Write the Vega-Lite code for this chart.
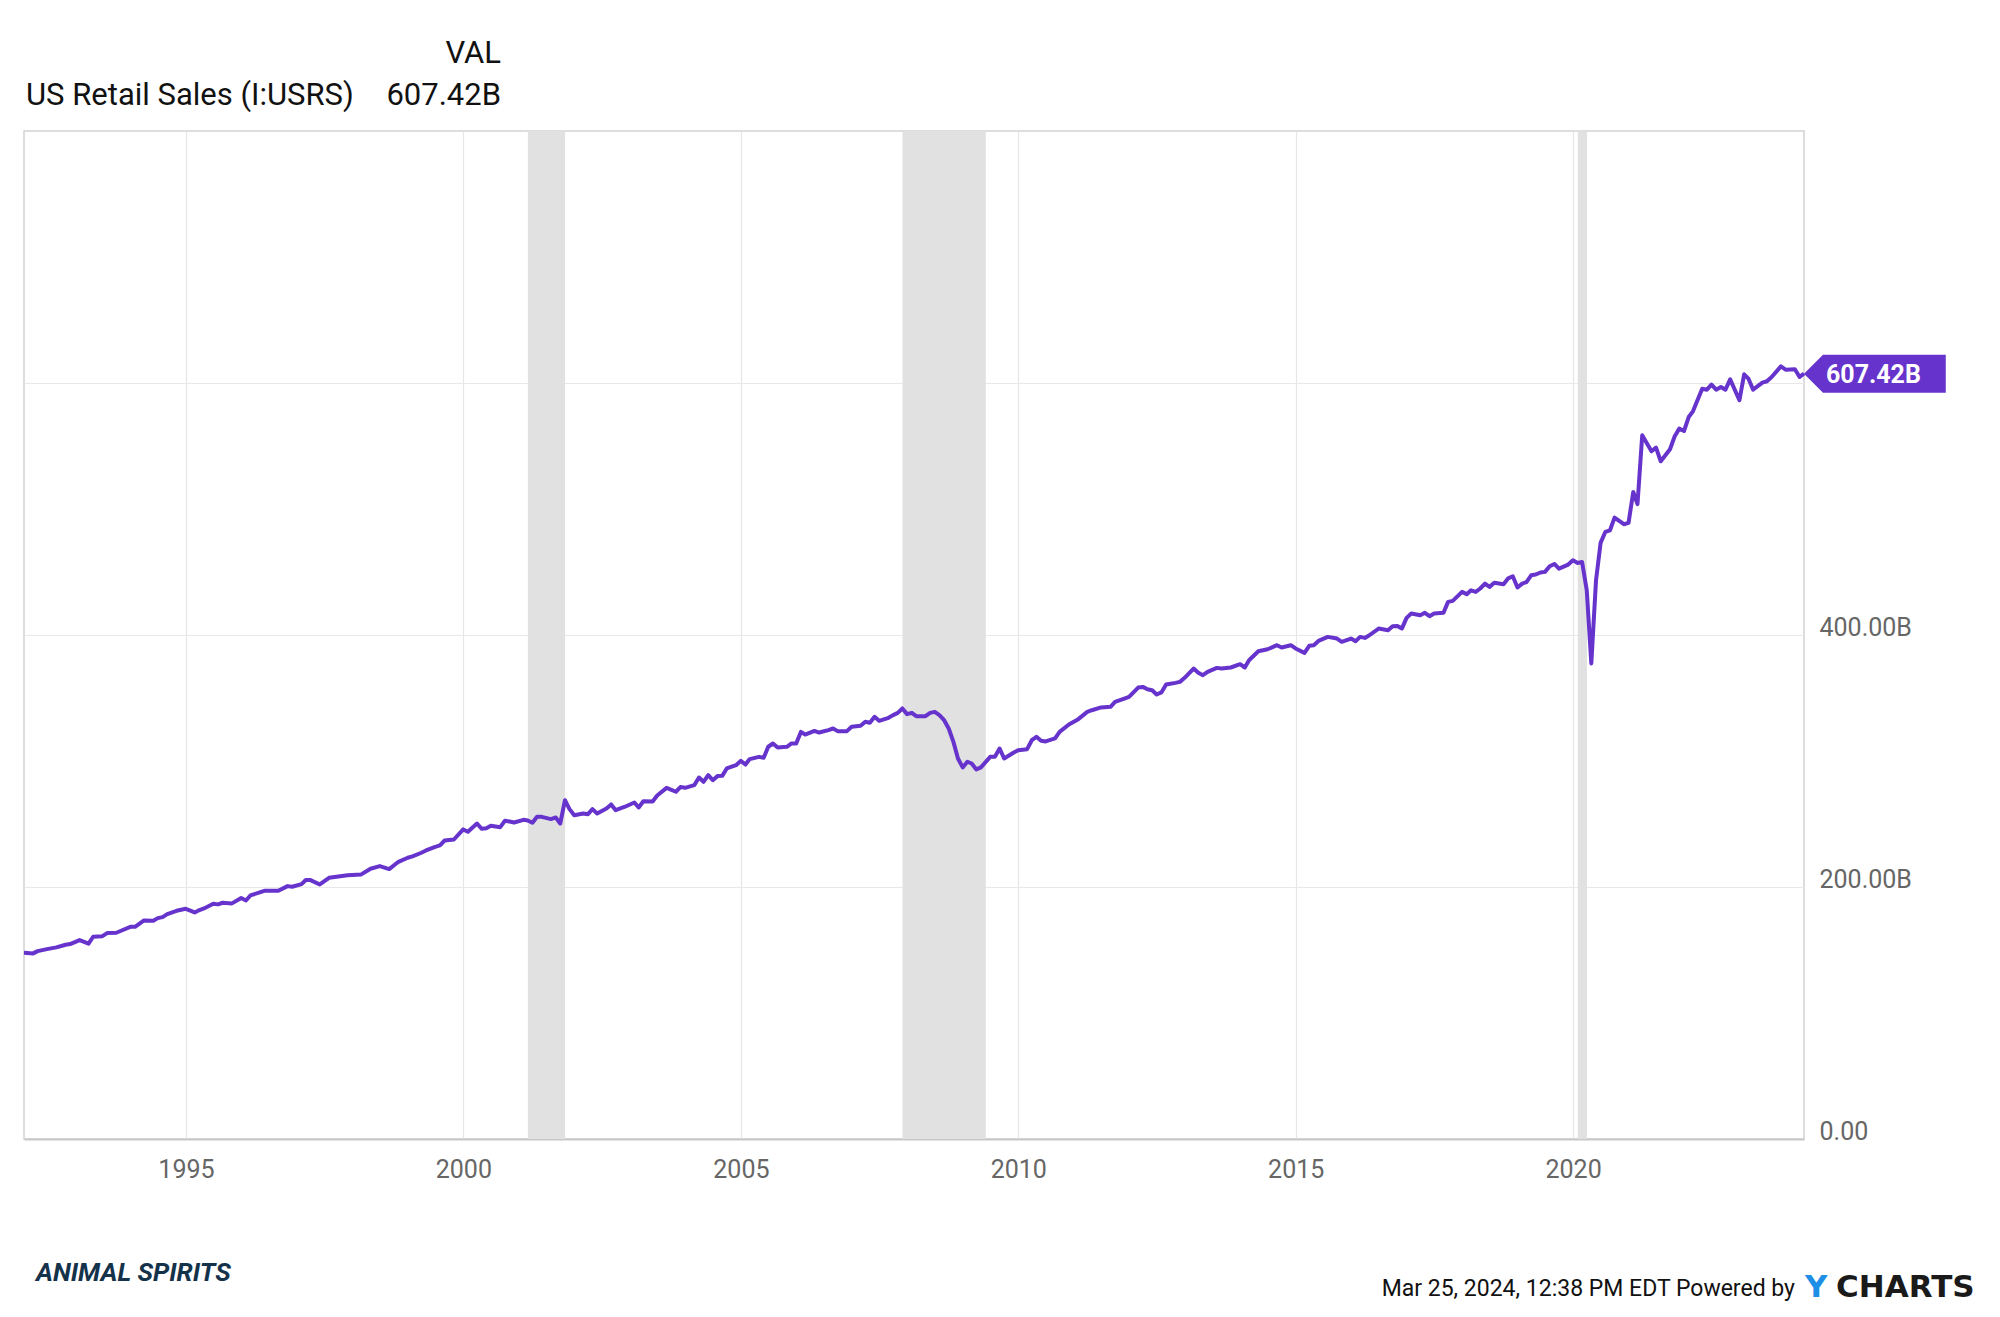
{
  "$schema": "https://vega.github.io/schema/vega-lite/v6.json",
  "width": 1780,
  "height": 1008,
  "autosize": {"type": "none"},
  "padding": {"left": 24, "top": 131, "right": 196, "bottom": 178},
  "background": "#ffffff",
  "config": {
    "view": {"stroke": "#d2d2d2", "strokeWidth": 1.5},
    "font": "Roboto, sans-serif",
    "axis": {"gridColor": "#e8e8e8", "gridWidth": 1.2}
  },
  "datasets": {
    "recessions": [
      {"start": "2001-03-01", "end": "2001-11-01"},
      {"start": "2007-12-01", "end": "2009-06-01"},
      {"start": "2020-02-01", "end": "2020-04-01"}
    ],
    "last": [
      {"date": "2024-02-29", "value": 607.42, "label": "607.42B"}
    ],
    "sales": [
{"date":"1992-01-31","value":147.8},
{"date":"1992-03-31","value":147.3},
{"date":"1992-04-30","value":149.1},
{"date":"1992-06-30","value":150.7},
{"date":"1992-08-31","value":152.1},
{"date":"1992-10-31","value":154.2},
{"date":"1992-11-30","value":154.7},
{"date":"1993-01-31","value":157.9},
{"date":"1993-03-31","value":155.0},
{"date":"1993-04-30","value":160.5},
{"date":"1993-06-30","value":161.0},
{"date":"1993-07-31","value":163.4},
{"date":"1993-09-30","value":163.7},
{"date":"1993-10-31","value":165.3},
{"date":"1993-12-31","value":168.4},
{"date":"1994-01-31","value":168.4},
{"date":"1994-03-31","value":173.5},
{"date":"1994-05-31","value":173.2},
{"date":"1994-06-30","value":175.3},
{"date":"1994-07-31","value":176.1},
{"date":"1994-08-31","value":178.5},
{"date":"1994-10-31","value":181.1},
{"date":"1994-12-31","value":182.7},
{"date":"1995-02-28","value":179.8},
{"date":"1995-03-31","value":181.7},
{"date":"1995-04-30","value":183.0},
{"date":"1995-06-30","value":186.7},
{"date":"1995-07-31","value":186.2},
{"date":"1995-08-31","value":187.5},
{"date":"1995-10-31","value":187.0},
{"date":"1995-12-31","value":191.2},
{"date":"1996-01-31","value":189.3},
{"date":"1996-02-29","value":193.3},
{"date":"1996-04-30","value":195.7},
{"date":"1996-05-31","value":197.0},
{"date":"1996-08-31","value":197.0},
{"date":"1996-10-31","value":200.7},
{"date":"1996-11-30","value":200.2},
{"date":"1997-01-31","value":202.3},
{"date":"1997-02-28","value":205.5},
{"date":"1997-03-31","value":205.5},
{"date":"1997-05-31","value":202.0},
{"date":"1997-07-31","value":207.3},
{"date":"1997-09-30","value":208.4},
{"date":"1997-11-30","value":209.4},
{"date":"1998-02-28","value":210.0},
{"date":"1998-04-30","value":214.5},
{"date":"1998-06-30","value":216.6},
{"date":"1998-08-31","value":214.2},
{"date":"1998-10-31","value":220.0},
{"date":"1998-12-31","value":223.2},
{"date":"1999-01-31","value":224.3},
{"date":"1999-03-31","value":227.2},
{"date":"1999-04-30","value":229.0},
{"date":"1999-06-30","value":231.9},
{"date":"1999-07-31","value":233.0},
{"date":"1999-08-31","value":236.9},
{"date":"1999-10-31","value":237.7},
{"date":"1999-12-31","value":245.7},
{"date":"2000-01-31","value":243.8},
{"date":"2000-03-31","value":250.4},
{"date":"2000-04-30","value":246.2},
{"date":"2000-05-31","value":246.7},
{"date":"2000-06-30","value":248.6},
{"date":"2000-08-31","value":247.5},
{"date":"2000-09-30","value":252.5},
{"date":"2000-10-31","value":252.0},
{"date":"2000-11-30","value":251.2},
{"date":"2001-01-31","value":253.3},
{"date":"2001-02-28","value":252.8},
{"date":"2001-03-31","value":251.0},
{"date":"2001-04-30","value":255.7},
{"date":"2001-05-31","value":255.7},
{"date":"2001-07-31","value":253.9},
{"date":"2001-08-31","value":255.2},
{"date":"2001-09-30","value":250.4},
{"date":"2001-10-31","value":268.9},
{"date":"2001-11-30","value":261.8},
{"date":"2001-12-31","value":257.0},
{"date":"2002-02-28","value":258.4},
{"date":"2002-03-31","value":257.8},
{"date":"2002-04-30","value":261.8},
{"date":"2002-05-31","value":258.4},
{"date":"2002-07-31","value":262.3},
{"date":"2002-08-31","value":265.5},
{"date":"2002-09-30","value":261.0},
{"date":"2002-11-30","value":263.7},
{"date":"2003-01-31","value":267.1},
{"date":"2003-02-28","value":263.1},
{"date":"2003-03-31","value":268.1},
{"date":"2003-05-31","value":267.9},
{"date":"2003-06-30","value":272.6},
{"date":"2003-08-31","value":278.7},
{"date":"2003-10-31","value":275.6},
{"date":"2003-11-30","value":279.3},
{"date":"2003-12-31","value":278.7},
{"date":"2004-02-29","value":280.8},
{"date":"2004-03-31","value":286.9},
{"date":"2004-04-30","value":283.5},
{"date":"2004-05-31","value":288.8},
{"date":"2004-06-30","value":284.8},
{"date":"2004-07-31","value":288.0},
{"date":"2004-08-31","value":288.2},
{"date":"2004-09-30","value":294.1},
{"date":"2004-11-30","value":296.7},
{"date":"2004-12-31","value":300.1},
{"date":"2005-01-31","value":297.2},
{"date":"2005-02-28","value":301.5},
{"date":"2005-04-30","value":303.3},
{"date":"2005-05-31","value":302.5},
{"date":"2005-06-30","value":311.3},
{"date":"2005-07-31","value":313.9},
{"date":"2005-08-31","value":310.7},
{"date":"2005-10-31","value":311.3},
{"date":"2005-11-30","value":313.9},
{"date":"2005-12-31","value":313.9},
{"date":"2006-01-31","value":323.1},
{"date":"2006-02-28","value":321.0},
{"date":"2006-04-30","value":323.9},
{"date":"2006-05-31","value":322.6},
{"date":"2006-07-31","value":324.5},
{"date":"2006-08-31","value":325.8},
{"date":"2006-09-30","value":323.7},
{"date":"2006-11-30","value":323.7},
{"date":"2006-12-31","value":327.1},
{"date":"2007-02-28","value":327.9},
{"date":"2007-03-31","value":331.1},
{"date":"2007-04-30","value":330.3},
{"date":"2007-05-31","value":335.1},
{"date":"2007-06-30","value":331.9},
{"date":"2007-08-31","value":334.3},
{"date":"2007-09-30","value":336.4},
{"date":"2007-10-31","value":338.2},
{"date":"2007-11-30","value":341.7},
{"date":"2007-12-31","value":337.2},
{"date":"2008-01-31","value":338.2},
{"date":"2008-02-29","value":335.6},
{"date":"2008-04-30","value":335.6},
{"date":"2008-05-31","value":338.2},
{"date":"2008-06-30","value":339.0},
{"date":"2008-07-31","value":336.4},
{"date":"2008-08-31","value":332.4},
{"date":"2008-09-30","value":325.8},
{"date":"2008-10-31","value":315.2},
{"date":"2008-11-30","value":302.0},
{"date":"2008-12-31","value":294.9},
{"date":"2009-01-31","value":299.4},
{"date":"2009-02-28","value":298.0},
{"date":"2009-03-31","value":293.3},
{"date":"2009-04-30","value":294.9},
{"date":"2009-06-30","value":303.3},
{"date":"2009-07-31","value":303.3},
{"date":"2009-08-31","value":309.9},
{"date":"2009-09-30","value":302.0},
{"date":"2009-11-30","value":306.5},
{"date":"2009-12-31","value":308.6},
{"date":"2010-02-28","value":309.4},
{"date":"2010-03-31","value":316.5},
{"date":"2010-04-30","value":319.2},
{"date":"2010-05-31","value":316.0},
{"date":"2010-06-30","value":315.5},
{"date":"2010-08-31","value":317.9},
{"date":"2010-09-30","value":323.1},
{"date":"2010-11-30","value":329.0},
{"date":"2011-01-31","value":333.2},
{"date":"2011-03-31","value":339.0},
{"date":"2011-04-30","value":340.3},
{"date":"2011-06-30","value":342.5},
{"date":"2011-08-31","value":343.0},
{"date":"2011-09-30","value":346.9},
{"date":"2011-11-30","value":349.6},
{"date":"2011-12-31","value":350.9},
{"date":"2012-02-29","value":358.3},
{"date":"2012-03-31","value":358.8},
{"date":"2012-04-30","value":357.0},
{"date":"2012-05-31","value":356.2},
{"date":"2012-06-30","value":352.8},
{"date":"2012-07-31","value":354.4},
{"date":"2012-08-31","value":360.7},
{"date":"2012-10-31","value":362.0},
{"date":"2012-11-30","value":362.8},
{"date":"2012-12-31","value":366.0},
{"date":"2013-02-28","value":373.4},
{"date":"2013-03-31","value":370.0},
{"date":"2013-04-30","value":368.1},
{"date":"2013-05-31","value":370.8},
{"date":"2013-07-31","value":373.9},
{"date":"2013-08-31","value":373.4},
{"date":"2013-10-31","value":374.2},
{"date":"2013-12-31","value":376.8},
{"date":"2014-01-31","value":374.2},
{"date":"2014-02-28","value":380.0},
{"date":"2014-04-30","value":387.1},
{"date":"2014-06-30","value":388.7},
{"date":"2014-08-31","value":391.9},
{"date":"2014-09-30","value":390.1},
{"date":"2014-11-30","value":391.9},
{"date":"2014-12-31","value":389.3},
{"date":"2015-02-28","value":385.8},
{"date":"2015-03-31","value":391.4},
{"date":"2015-04-30","value":391.9},
{"date":"2015-05-31","value":395.3},
{"date":"2015-07-31","value":398.5},
{"date":"2015-09-30","value":397.2},
{"date":"2015-10-31","value":394.6},
{"date":"2015-12-31","value":397.2},
{"date":"2016-01-31","value":395.1},
{"date":"2016-02-29","value":398.5},
{"date":"2016-03-31","value":397.7},
{"date":"2016-04-30","value":399.8},
{"date":"2016-06-30","value":405.1},
{"date":"2016-08-31","value":403.8},
{"date":"2016-09-30","value":407.0},
{"date":"2016-10-31","value":407.2},
{"date":"2016-11-30","value":405.1},
{"date":"2016-12-31","value":413.6},
{"date":"2017-01-31","value":417.0},
{"date":"2017-03-31","value":415.7},
{"date":"2017-04-30","value":417.6},
{"date":"2017-05-31","value":414.9},
{"date":"2017-06-30","value":417.0},
{"date":"2017-08-31","value":417.6},
{"date":"2017-09-30","value":426.3},
{"date":"2017-10-31","value":427.1},
{"date":"2017-12-31","value":434.2},
{"date":"2018-01-31","value":432.4},
{"date":"2018-02-28","value":435.5},
{"date":"2018-03-31","value":434.2},
{"date":"2018-04-30","value":436.9},
{"date":"2018-05-31","value":440.8},
{"date":"2018-06-30","value":438.2},
{"date":"2018-07-31","value":441.4},
{"date":"2018-09-30","value":440.3},
{"date":"2018-10-31","value":445.0},
{"date":"2018-11-30","value":446.6},
{"date":"2018-12-31","value":437.7},
{"date":"2019-01-31","value":440.8},
{"date":"2019-02-28","value":442.0},
{"date":"2019-03-31","value":447.4},
{"date":"2019-04-30","value":448.0},
{"date":"2019-05-31","value":449.6},
{"date":"2019-06-30","value":450.1},
{"date":"2019-07-31","value":454.6},
{"date":"2019-08-31","value":456.4},
{"date":"2019-09-30","value":452.7},
{"date":"2019-11-30","value":455.9},
{"date":"2019-12-31","value":459.3},
{"date":"2020-01-31","value":457.2},
{"date":"2020-02-29","value":458.0},
{"date":"2020-03-31","value":435.5},
{"date":"2020-04-30","value":377.4},
{"date":"2020-05-31","value":443.5},
{"date":"2020-06-30","value":473.1},
{"date":"2020-07-31","value":481.8},
{"date":"2020-08-31","value":483.1},
{"date":"2020-09-30","value":493.2},
{"date":"2020-11-30","value":487.9},
{"date":"2020-12-31","value":489.0},
{"date":"2021-01-31","value":513.5},
{"date":"2021-02-28","value":503.8},
{"date":"2021-03-31","value":558.5},
{"date":"2021-05-31","value":545.8},
{"date":"2021-06-30","value":548.7},
{"date":"2021-07-31","value":537.9},
{"date":"2021-09-30","value":547.4},
{"date":"2021-10-31","value":557.7},
{"date":"2021-11-30","value":563.8},
{"date":"2021-12-31","value":561.9},
{"date":"2022-01-31","value":573.0},
{"date":"2022-02-28","value":577.5},
{"date":"2022-04-30","value":595.5},
{"date":"2022-05-31","value":594.7},
{"date":"2022-06-30","value":598.7},
{"date":"2022-07-31","value":594.7},
{"date":"2022-08-31","value":596.8},
{"date":"2022-09-30","value":594.7},
{"date":"2022-10-31","value":602.9},
{"date":"2022-12-31","value":586.3},
{"date":"2023-01-31","value":606.9},
{"date":"2023-02-28","value":603.5},
{"date":"2023-03-31","value":594.7},
{"date":"2023-05-31","value":600.3},
{"date":"2023-06-30","value":601.4},
{"date":"2023-07-31","value":604.8},
{"date":"2023-09-30","value":613.2},
{"date":"2023-10-31","value":610.6},
{"date":"2023-12-31","value":610.9},
{"date":"2024-01-31","value":604.8},
{"date":"2024-02-29","value":607.42}
    ]
  },
  "layer": [
    {
      "data": {"name": "recessions"},
      "mark": {"type": "rect", "color": "#e1e1e1"},
      "encoding": {
        "x": {
          "field": "start", "type": "temporal",
          "scale": {"type": "utc", "domain": [{"year": 1992, "month": 1, "date": 31, "utc": true}, {"year": 2024, "month": 2, "date": 29, "utc": true}]},
          "axis": {
            "orient": "bottom",
            "values": [
              {"year": 1995, "month": 1, "date": 1, "utc": true},
              {"year": 2000, "month": 1, "date": 1, "utc": true},
              {"year": 2005, "month": 1, "date": 1, "utc": true},
              {"year": 2010, "month": 1, "date": 1, "utc": true},
              {"year": 2015, "month": 1, "date": 1, "utc": true},
              {"year": 2020, "month": 1, "date": 1, "utc": true}
            ],
            "format": "%Y",
            "grid": true, "gridColor": "#e6e6e6",
            "ticks": false, "tickSize": 0,
            "domain": true, "domainColor": "#c8c8c8", "domainWidth": 2,
            "labelFontSize": 25, "labelColor": "#666666",
            "labelPadding": 38, "labelBaseline": "alphabetic",
            "labelFlush": false, "labelOverlap": false,
            "title": null
          }
        },
        "x2": {"field": "end"}
      }
    },
    {
      "data": {"name": "sales"},
      "mark": {"type": "line", "color": "#6633cc", "strokeWidth": 4, "strokeJoin": "round"},
      "encoding": {
        "x": {"field": "date", "type": "temporal"},
        "y": {
          "field": "value", "type": "quantitative",
          "scale": {"domain": [0, 800], "nice": false},
          "axis": {
            "orient": "right",
            "values": [0, 200, 400, 600],
            "labelExpr": "datum.value == 0 ? '0.00' : (datum.value == 600 ? '' : format(datum.value, '.2f') + 'B')",
            "grid": true, "gridColor": "#e8e8e8",
            "ticks": false, "domain": false,
            "labelAlign": "left", "labelPadding": 15, "labelBaseline": "alphabetic",
            "labelFontSize": 25, "labelColor": "#666666",
            "labelFlush": false, "labelOverlap": false,
            "title": null
          }
        }
      }
    },
    {
      "data": {"name": "last"},
      "mark": {"type": "point", "shape": "M0,0L1,-1L7.46,-1L7.46,1L1,1Z", "size": 1444, "filled": true, "color": "#6633cc", "opacity": 1, "strokeWidth": 0},
      "encoding": {
        "x": {"field": "date", "type": "temporal"},
        "y": {"field": "value", "type": "quantitative"}
      }
    },
    {
      "data": {"name": "last"},
      "mark": {"type": "text", "align": "left", "baseline": "middle", "dx": 22, "dy": 1, "font": "Roboto", "fontWeight": "bold", "fontSize": 25, "color": "#ffffff"},
      "encoding": {
        "x": {"field": "date", "type": "temporal"},
        "y": {"field": "value", "type": "quantitative"},
        "text": {"field": "label"}
      }
    },
    {
      "data": {"name": "last"},
      "mark": {"type": "text", "text": "VAL", "align": "right", "baseline": "alphabetic", "dx": 477, "dy": -68, "fontSize": 31, "color": "#111111"},
      "encoding": {
        "x": {"datum": {"year": 1992, "month": 1, "date": 31, "utc": true}, "type": "temporal"},
        "y": {"datum": 800, "type": "quantitative"}
      }
    },
    {
      "data": {"name": "last"},
      "mark": {"type": "text", "text": "US Retail Sales (I:USRS)", "align": "left", "baseline": "alphabetic", "dx": 2, "dy": -26, "fontSize": 31, "color": "#111111"},
      "encoding": {
        "x": {"datum": {"year": 1992, "month": 1, "date": 31, "utc": true}, "type": "temporal"},
        "y": {"datum": 800, "type": "quantitative"}
      }
    },
    {
      "data": {"name": "last"},
      "mark": {"type": "text", "align": "right", "baseline": "alphabetic", "dx": 477, "dy": -26, "fontSize": 31, "color": "#111111"},
      "encoding": {
        "x": {"datum": {"year": 1992, "month": 1, "date": 31, "utc": true}, "type": "temporal"},
        "y": {"datum": 800, "type": "quantitative"},
        "text": {"field": "label"}
      }
    },
    {
      "data": {"name": "last"},
      "mark": {"type": "text", "text": "ANIMAL SPIRITS", "align": "left", "baseline": "alphabetic", "dx": 12, "dy": 142, "fontSize": 26, "fontWeight": "bold", "fontStyle": "italic", "color": "#15324b"},
      "encoding": {
        "x": {"datum": {"year": 1992, "month": 1, "date": 31, "utc": true}, "type": "temporal"},
        "y": {"datum": 0, "type": "quantitative"}
      }
    },
    {
      "data": {"name": "last"},
      "mark": {"type": "text", "text": "Mar 25, 2024, 12:38 PM EDT Powered by", "align": "right", "baseline": "alphabetic", "dx": -9, "dy": 157, "fontSize": 23, "color": "#111111"},
      "encoding": {
        "x": {"datum": {"year": 2024, "month": 2, "date": 29, "utc": true}, "type": "temporal"},
        "y": {"datum": 0, "type": "quantitative"}
      }
    },
    {
      "data": {"name": "last"},
      "mark": {"type": "text", "text": "Y", "align": "left", "baseline": "alphabetic", "dx": 1, "dy": 158, "font": "DejaVu Sans", "fontWeight": "bold", "fontSize": 31, "color": "#1e8fe6"},
      "encoding": {
        "x": {"datum": {"year": 2024, "month": 2, "date": 29, "utc": true}, "type": "temporal"},
        "y": {"datum": 0, "type": "quantitative"}
      }
    },
    {
      "data": {"name": "last"},
      "mark": {"type": "text", "text": "CHARTS", "align": "left", "baseline": "alphabetic", "dx": 32, "dy": 158, "font": "DejaVu Sans", "fontWeight": "bold", "fontSize": 31, "color": "#1a1a1a"},
      "encoding": {
        "x": {"datum": {"year": 2024, "month": 2, "date": 29, "utc": true}, "type": "temporal"},
        "y": {"datum": 0, "type": "quantitative"}
      }
    }
  ]
}
